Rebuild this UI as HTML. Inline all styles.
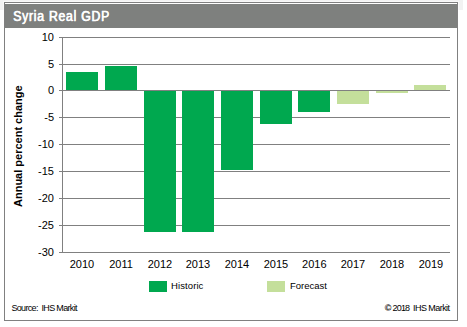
<!DOCTYPE html>
<html><head><meta charset="utf-8">
<style>
html,body{margin:0;padding:0;}
body{width:467px;height:327px;position:relative;overflow:hidden;background:#fff;font-family:"Liberation Sans",sans-serif;color:#000;}
div{position:absolute;box-sizing:border-box;}
.g{height:1px;background:#808080;left:59px;width:391px;}
.b{background:#00a84f;}
.f{background:#c4df9b;}
.yl{font-size:11px;line-height:11px;right:413px;text-align:right;white-space:nowrap;}
.xl{font-size:11px;line-height:11px;width:39px;text-align:center;top:259px;white-space:nowrap;}
.sm{font-size:9px;line-height:10px;white-space:nowrap;}
</style></head><body>
<div style="left:0;top:0;width:463px;height:10px;background:#f2f2f2"></div>
<div style="left:3px;top:1px;width:456px;height:9px;background:#f8f8f8"></div>
<div style="left:4px;top:2px;width:454px;height:319px;border:1px solid #808080;background:#fff"></div>
<div style="left:5px;top:4px;width:452px;height:24px;background:#7e807e"></div>
<div style="left:13px;top:8px;transform-origin:0 0;transform:scaleX(0.88);font-size:14px;line-height:16px;letter-spacing:0.8px;text-shadow:0.5px 0 0 #fff;-webkit-text-stroke:0.3px #fff;color:#fff;white-space:nowrap">Syria Real GDP</div>

<!-- gridlines -->
<div class="g" style="top:37px"></div>
<div class="g" style="top:64px"></div>
<div class="g" style="top:90px"></div>
<div class="g" style="top:117px"></div>
<div class="g" style="top:144px"></div>
<div class="g" style="top:171px"></div>
<div class="g" style="top:198px"></div>
<div class="g" style="top:225px"></div>
<div class="g" style="top:252px"></div>
<div style="left:62px;top:37px;width:1px;height:216px;background:#808080"></div>

<!-- bars -->
<div class="b" style="left:66px;top:72px;width:32px;height:18px"></div>
<div class="b" style="left:105px;top:66px;width:32px;height:24px"></div>
<div class="b" style="left:144px;top:91px;width:32px;height:141px"></div>
<div class="b" style="left:182px;top:91px;width:32px;height:141px"></div>
<div class="b" style="left:221px;top:91px;width:32px;height:79px"></div>
<div class="b" style="left:260px;top:91px;width:32px;height:33px"></div>
<div class="b" style="left:298px;top:91px;width:32px;height:21px"></div>
<div class="f" style="left:337px;top:91px;width:32px;height:13px"></div>
<div class="f" style="left:376px;top:91px;width:32px;height:2px"></div>
<div class="f" style="left:414px;top:85px;width:32px;height:5px"></div>

<!-- y labels -->
<div class="yl" style="top:32px">10</div>
<div class="yl" style="top:59px">5</div>
<div class="yl" style="top:85px">0</div>
<div class="yl" style="top:112px">-5</div>
<div class="yl" style="top:139px">-10</div>
<div class="yl" style="top:166px">-15</div>
<div class="yl" style="top:193px">-20</div>
<div class="yl" style="top:220px">-25</div>
<div class="yl" style="top:247px">-30</div>

<!-- axis title -->
<div style="left:12px;top:207px;transform-origin:0 0;transform:rotate(-90deg);font-size:11px;line-height:13px;font-weight:bold;white-space:nowrap">Annual percent change</div>

<!-- x labels -->
<div class="xl" style="left:62.5px">2010</div>
<div class="xl" style="left:101.5px">2011</div>
<div class="xl" style="left:140.5px">2012</div>
<div class="xl" style="left:178.5px">2013</div>
<div class="xl" style="left:217.5px">2014</div>
<div class="xl" style="left:256.5px">2015</div>
<div class="xl" style="left:294.8px">2016</div>
<div class="xl" style="left:333.5px">2017</div>
<div class="xl" style="left:372.5px">2018</div>
<div class="xl" style="left:411.5px">2019</div>

<!-- legend -->
<div class="b" style="left:149px;top:281px;width:18px;height:11px"></div>
<div class="sm" style="left:171px;top:281px;font-size:9.5px;letter-spacing:0.1px">Historic</div>
<div class="f" style="left:267px;top:281px;width:18px;height:11px"></div>
<div class="sm" style="left:290px;top:281px;font-size:9.5px">Forecast</div>

<div class="sm" style="left:11.4px;top:303px;letter-spacing:-0.66px">Source:&nbsp; IHS Markit</div>
<div class="sm" style="left:384.7px;top:303px;font-weight:bold">©</div>
<div class="sm" style="left:392.5px;top:303px;letter-spacing:-0.8px">2018</div>
<div class="sm" style="left:413px;top:303px;letter-spacing:-0.55px">IHS Markit</div>
</body></html>
